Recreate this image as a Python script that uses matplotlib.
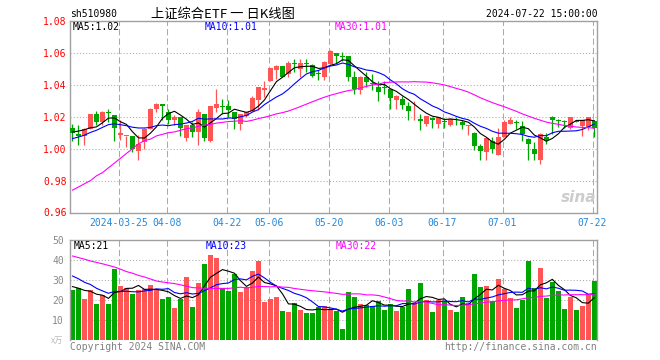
import matplotlib
matplotlib.use('Agg')
import matplotlib.pyplot as plt
import numpy as np
import pandas as pd

RED = '#FF5555'
GREEN = '#00A600'
GRID = '#AAAAAA'
FRAME = '#A0A0A0'
DATE_BLUE = '#2288DD'
MONO = 'DejaVu Sans Mono'

W, H = 660, 360

# daily candles, 2024-03-13 .. 2024-07-22
opens = [1.0131, 1.0094, 1.0079, 1.0125, 1.0215, 1.0165, 1.0227, 1.0212, 1.0085, 1.0080,
         1.0077, 0.9985, 1.0042, 1.0125, 1.0250, 1.0277, 1.0229, 1.0180, 1.0198, 1.0067,
         1.0146, 1.0104, 1.0215, 1.0048, 1.0254, 1.0267, 1.0265, 1.0229, 1.0156, 1.0202,
         1.0235, 1.0302, 1.0369, 1.0427, 1.0496, 1.0515, 1.0469, 1.0533, 1.0500, 1.0533,
         1.0527, 1.0470, 1.0448, 1.0531, 1.0598, 1.0580, 1.0579, 1.0448, 1.0369, 1.0452,
         1.0410, 1.0385, 1.0386, 1.0375, 1.0302, 1.0313, 1.0265, 1.0233, 1.0183, 1.0156,
         1.0194, 1.0156, 1.0167, 1.0146, 1.0185, 1.0167, 1.0140, 1.0101, 1.0014, 0.9980,
         1.0045, 0.9960, 1.0076, 1.0155, 1.0165, 1.0144, 1.0062, 1.0000, 0.9928, 1.0076,
         1.0200, 1.0176, 1.0167, 1.0128, 1.0172, 1.0144, 1.0134, 1.0171]
highs = [1.0152, 1.0146, 1.0127, 1.0217, 1.0233, 1.0235, 1.0250, 1.0214, 1.0180, 1.0082,
         1.0079, 1.0083, 1.0127, 1.0252, 1.0285, 1.0279, 1.0250, 1.0208, 1.0200, 1.0148,
         1.0167, 1.0246, 1.0217, 1.0267, 1.0375, 1.0313, 1.0302, 1.0231, 1.0217, 1.0231,
         1.0330, 1.0387, 1.0427, 1.0504, 1.0527, 1.0517, 1.0548, 1.0563, 1.0563, 1.0563,
         1.0529, 1.0494, 1.0548, 1.0617, 1.0600, 1.0604, 1.0581, 1.0485, 1.0454, 1.0479,
         1.0469, 1.0427, 1.0427, 1.0377, 1.0335, 1.0333, 1.0292, 1.0300, 1.0215, 1.0204,
         1.0196, 1.0200, 1.0194, 1.0190, 1.0198, 1.0177, 1.0148, 1.0103, 1.0030, 1.0068,
         1.0072, 1.0130, 1.0177, 1.0200, 1.0181, 1.0175, 1.0064, 1.0041, 1.0099, 1.0097,
         1.0202, 1.0186, 1.0180, 1.0198, 1.0180, 1.0182, 1.0200, 1.0180]
lows = [1.0050, 1.0025, 1.0025, 1.0123, 1.0146, 1.0146, 1.0167, 1.0048, 1.0052, 1.0010,
        0.9979, 0.9931, 1.0000, 1.0123, 1.0229, 1.0180, 1.0152, 1.0146, 1.0077, 1.0048,
        1.0073, 1.0025, 1.0048, 1.0044, 1.0229, 1.0219, 1.0198, 1.0125, 1.0119, 1.0200,
        1.0233, 1.0240, 1.0323, 1.0425, 1.0438, 1.0450, 1.0448, 1.0479, 1.0448, 1.0480,
        1.0452, 1.0431, 1.0431, 1.0529, 1.0535, 1.0552, 1.0423, 1.0344, 1.0344, 1.0385,
        1.0369, 1.0298, 1.0340, 1.0250, 1.0250, 1.0250, 1.0177, 1.0177, 1.0115, 1.0140,
        1.0131, 1.0131, 1.0131, 1.0140, 1.0146, 1.0125, 1.0083, 0.9990, 0.9930, 0.9930,
        0.9975, 0.9958, 1.0074, 1.0153, 1.0124, 1.0047, 0.9930, 0.9930, 0.9903, 1.0030,
        1.0093, 1.0134, 1.0131, 1.0126, 1.0165, 1.0082, 1.0118, 1.0072]
closes = [1.0098, 1.0079, 1.0125, 1.0215, 1.0165, 1.0229, 1.0223, 1.0131, 1.0096, 1.0081,
          1.0000, 1.0031, 1.0125, 1.0250, 1.0277, 1.0267, 1.0180, 1.0198, 1.0131, 1.0146,
          1.0104, 1.0229, 1.0067, 1.0265, 1.0277, 1.0262, 1.0244, 1.0188, 1.0215, 1.0229,
          1.0317, 1.0385, 1.0380, 1.0504, 1.0515, 1.0452, 1.0535, 1.0529, 1.0535, 1.0530,
          1.0454, 1.0467, 1.0546, 1.0615, 1.0579, 1.0577, 1.0448, 1.0375, 1.0452, 1.0417,
          1.0406, 1.0354, 1.0383, 1.0319, 1.0333, 1.0271, 1.0233, 1.0235, 1.0171, 1.0202,
          1.0177, 1.0198, 1.0165, 1.0188, 1.0183, 1.0146, 1.0146, 1.0016, 0.9984, 1.0066,
          1.0000, 1.0076, 1.0165, 1.0180, 1.0158, 1.0093, 1.0030, 0.9965, 1.0093, 1.0052,
          1.0180, 1.0174, 1.0165, 1.0196, 1.0170, 1.0180, 1.0196, 1.0130]
# volume, 万手
volumes = [25, 26, 20.5, 25, 18, 22.5, 18, 35.5, 27, 26,
           23, 25, 25.5, 27.5, 25.5, 20.5, 21.5, 16, 20.5, 31.5,
           16.5, 28.5, 38, 42.5, 41, 26, 24.5, 33, 24, 26.5,
           34.5, 39.5, 19.2, 20.5, 21.7, 14.7, 14.2, 18.5, 15, 13.7,
           13.7, 16.3, 17.2, 15.5, 14.7, 5.7, 24.2, 21.7, 18, 17.3,
           17, 19.7, 15.2, 17.8, 14.7, 16.3, 25.5, 18, 28.7, 20.2,
           14.2, 20.2, 19.5, 15, 14, 21.5, 18.7, 33.2, 26.5, 27,
           19.7, 30.5, 25.5, 21, 16, 20.2, 39.5, 26.2, 36, 21,
           29, 24.5, 15.5, 21.5, 15, 17, 23, 29.5]

# sessions before the window, read back from where the MA lines start
pre_closes = [0.998, 1.001, 1.004, 1.003, 1.005, 1.0049, 1.008, 1.0155, 1.0138]
pre_volumes = [40, 38, 36, 37, 35.5, 30, 26, 27, 25.5]
# MA30 over the first 29 sessions (needs older data)
ma30_head = [0.974, 0.976, 0.978, 0.980, 0.983, 0.985, 0.988, 0.991, 0.994, 0.997,
             1.000, 1.003, 1.005, 1.006, 1.008, 1.009, 1.010, 1.0105, 1.0115, 1.0125,
             1.013, 1.014, 1.0148, 1.0152, 1.016, 1.0165, 1.017, 1.0172, 1.0175]
vol_ma30_head = [42, 41.2, 40.4, 39.5, 38.8, 38.1, 37.3, 36.5, 35.4, 34.2,
                 33.4, 32.3, 31.5, 30.5, 29.5, 29.0, 28.6, 28.2, 27.6, 26.9,
                 26.2, 26.0, 25.9, 25.8, 25.8, 25.8, 25.8, 26.1, 26.4]

tick_idx = [8, 16, 26, 33, 43, 53, 62, 72, 87]
tick_labels = ['2024-03-25', '04-08', '04-22', '05-06', '05-20',
               '06-03', '06-17', '07-01', '07-22']

# legend readouts as printed on the chart
price_ma_text = ['MA5:1.02', 'MA10:1.01', 'MA30:1.01']
vol_ma_text = ['MA5:21', 'MA10:23', 'MA30:22']


def moving(prefix, values, n):
    s = pd.Series(prefix + values).rolling(n).mean().values
    return s[len(prefix):]


def ma30(head, values):
    s = pd.Series(values).rolling(30).mean().values
    return np.concatenate([head, s[29:]])


o = np.array(opens)
c = np.array(closes)
x = np.arange(len(c))
up = c >= o
colors = np.where(up, RED, GREEN)

fig = plt.figure(figsize=(W / 100, H / 100), dpi=100)
fig.patch.set_facecolor('white')

left = 69.5 / W
width = (597.3 - 69.5) / W
ax = fig.add_axes([left, 1 - 212.5 / H, width, (212.5 - 21) / H])
axv = fig.add_axes([left, 1 - 340 / H, width, 100 / H])

for a in (ax, axv):
    a.set_xlim(-0.5, len(c) - 0.5)
    for s in a.spines.values():
        s.set_color(FRAME)
        s.set_linewidth(1.0)
    for t in tick_idx:
        a.axvline(t - 0.3, color=GRID, lw=0.75, ls=(0, (6, 3)), zorder=0)

# price panel
ax.set_ylim(0.96, 1.08)
for g in [0.98, 1.00, 1.02, 1.04, 1.06]:
    ax.axhline(g, color=GRID, lw=0.75, ls=(0, (1, 2)), zorder=0)

ax.vlines(x, lows, highs, colors=colors, lw=0.9, zorder=2)
body = np.maximum(np.abs(c - o), 0.0006)
ax.bar(x, body, bottom=np.minimum(o, c), width=0.75, color=colors, zorder=3)

ma5 = moving(pre_closes, closes, 5)
ma10 = moving(pre_closes, closes, 10)
m30 = ma30(ma30_head, closes)
ax.plot(x, ma5, color='black', lw=0.8, zorder=4)
ax.plot(x, ma10, color='#0000FF', lw=0.8, zorder=4)
ax.plot(x, m30, color='#FF00FF', lw=0.8, zorder=4)

ax.set_yticks([0.96, 0.98, 1.00, 1.02, 1.04, 1.06, 1.08])
ax.set_yticklabels(['%.2f' % v for v in [0.96, 0.98, 1.00, 1.02, 1.04, 1.06, 1.08]],
                   color='#FF0000', fontsize=7, family=MONO)
ax.set_xticks(np.array(tick_idx) - 0.3)
ax.set_xticklabels(tick_labels, color=DATE_BLUE, fontsize=7, family=MONO)
ax.tick_params(length=0, pad=2)
ax.tick_params(axis='x', pad=4)

# volume panel
axv.set_ylim(0, 50)
for g in [10, 20, 30, 40]:
    axv.axhline(g, color=GRID, lw=0.75, ls=(0, (1, 2)), zorder=0)
axv.bar(x, volumes, width=0.78, color=colors, zorder=2)
vma5 = moving(pre_volumes, volumes, 5)
vma10 = moving(pre_volumes, volumes, 10)
vma30 = ma30(vol_ma30_head, volumes)
axv.plot(x, vma5, color='black', lw=0.8, zorder=4)
axv.plot(x, vma10, color='#0000FF', lw=0.8, zorder=4)
axv.plot(x, vma30, color='#FF00FF', lw=0.8, zorder=4)
axv.set_yticks([10, 20, 30, 40, 50])
axv.set_yticklabels(['10', '20', '30', '40', '50'], color='#888888', fontsize=7, family=MONO)
axv.set_xticks([])
axv.tick_params(length=0, pad=4)
axv.spines['bottom'].set_visible(False)


def px_text(px, py, s, **kw):
    kw.setdefault('family', MONO)
    kw.setdefault('fontsize', 7)
    kw.setdefault('va', 'center')
    fig.text(px / W, 1 - py / H, s, **kw)


px_text(70, 14, 'sh510980', color='black')
px_text(151, 14, '上证综合ETF 一 日K线图', color='black', fontsize=9.5,
        family=['Noto Sans CJK SC', 'DejaVu Sans'])
px_text(598, 14, '2024-07-22 15:00:00', color='black', ha='right')

legend_x = [73, 205, 335]
legend_c = ['black', '#0000FF', '#FF00FF']
for lx, lc, pt, vt in zip(legend_x, legend_c, price_ma_text, vol_ma_text):
    px_text(lx, 27, pt, color=lc)
    px_text(lx + 1, 246, vt, color=lc)

px_text(63, 340, 'x万', color='#BBBBBB', ha='right', fontsize=6,
        family=['Noto Sans CJK SC', 'DejaVu Sans'], style='italic')
px_text(70, 347, 'Copyright 2024 SINA.COM', color='#808080')
px_text(597, 347, 'http://finance.sina.com.cn', color='#808080', ha='right')
px_text(596, 197, 'sina', color='#CCCCCC', ha='right', fontsize=11,
        family='DejaVu Sans', weight='bold', style='italic')

plt.savefig('out.png', dpi=100)
